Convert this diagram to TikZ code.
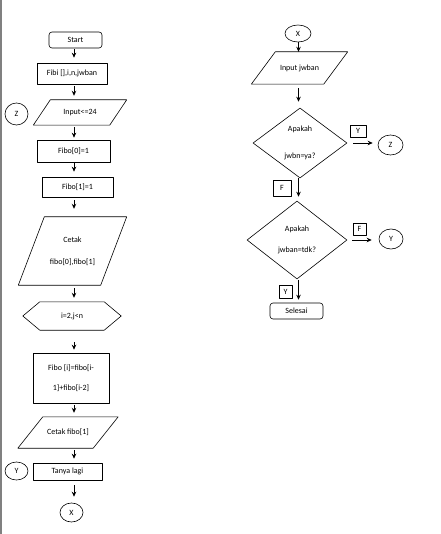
\documentclass[tikz,border=0pt]{standalone}
\usepackage{fontspec}
\setmainfont{Carlito}
\usetikzlibrary{shapes.geometric,arrows.meta}
\begin{document}
\begin{tikzpicture}[x=1pt,y=-1pt,font=\fontsize{8}{9.6}\selectfont,line join=round,>={Stealth[length=5pt,width=4.5pt]},
  shp/.style={draw,line width=0.6pt},
  proc/.style={shp,inner sep=0pt},
  term/.style={proc,rounded corners=3pt},
  io/.style={inner sep=0pt},
  conn/.style={shp,ellipse,inner sep=0pt},
  dec/.style={shp,diamond,inner sep=0pt,aspect=1.3},
  lbl/.style={shp,inner sep=0pt},
  flow/.style={->,line width=0.8pt}]
\useasboundingbox (0,0) rectangle (440,534);
\draw[gray,line width=2pt] (1,0) -- (1,534);
% kolom kiri
\node[term,minimum width=53,minimum height=16] (start) at (75.5,40) {Start};
\node[proc,minimum width=70,minimum height=21] (fibi) at (72,73.5) {Fibi [],i,n,jwban};
\node[io,minimum width=76,minimum height=25] (inp) at (80,112.5) {Input<=24};
\node[proc,minimum width=73,minimum height=22] (fibo0) at (73.5,151) {Fibo[0]=1};
\node[proc,minimum width=71,minimum height=20] (fibo1) at (77.5,187) {Fibo[1]=1};
\node[io,minimum width=82,minimum height=68,align=center] (cet) at (72.5,251) {Cetak\\[12pt]fibo[0],fibo[1]};
\node[io,minimum width=98,minimum height=28] (hex) at (72,316) {i=2,j<n};
\node[proc,minimum width=76,minimum height=50,align=center] (fiboi) at (71,378) {Fibo [i]=fibo[i-\\[11pt]1]+fibo[i-2]};
\node[io,minimum width=75,minimum height=31] (cetf) at (68,432.5) {Cetak fibo[1]};
\node[proc,minimum width=69,minimum height=17] (tanya) at (67.5,471.5) {Tanya lagi};
\node[conn,minimum width=23,minimum height=22] (zl) at (16.5,114) {Z};
\node[conn,minimum width=23,minimum height=18] (yl) at (16.5,471) {Y};
\node[conn,minimum width=23,minimum height=19] (xl) at (71.5,512.5) {X};
% kolom kanan
\node[conn,minimum width=26,minimum height=17] (xr) at (298,33.5) {X};
\node[io,minimum width=72,minimum height=32] (injw) at (299.5,68) {Input jwban};
\node[dec,minimum width=94,minimum height=70,align=center] (d1) at (300,143) {Apakah\\[18pt]jwbn=ya?};
\node[dec,minimum width=100,minimum height=78,align=center] (d2) at (297,240) {Apakah\\[12pt]jwban=tdk?};
\node[term,minimum width=53,minimum height=16] (sel) at (296.5,311) {Selesai};
\node[conn,minimum width=25,minimum height=20] (zr) at (390.5,145) {Z};
\node[conn,minimum width=24,minimum height=20] (yr) at (391,239) {Y};
\node[lbl,minimum width=16,minimum height=12] (ya1) at (358,131) {Y};
\node[lbl,minimum width=18,minimum height=16] (tf1) at (282,188) {F};
\node[lbl,minimum width=13,minimum height=12] (tf2) at (359.5,229) {F};
\node[lbl,minimum width=13,minimum height=13] (ya2) at (285.5,291.5) {Y};
% jajaran genjang dan segi enam
\foreach \n/\o in {inp/17,cet/26,cetf/25,injw/24}
  \draw[shp] ([xshift=\o/2]\n.north west) -- ([xshift=\o/2]\n.north east) -- ([xshift=-\o/2]\n.south east) -- ([xshift=-\o/2]\n.south west) -- cycle;
\draw[shp] (hex.west) -- ([xshift=17]hex.north west) -- ([xshift=-17]hex.north east) -- (hex.east) -- ([xshift=-17]hex.south east) -- ([xshift=17]hex.south west) -- cycle;
% panah
\coordinate (kiri) at (74,0);
\coordinate (kanan) at (298.5,0);
\foreach \a/\b/\s/\e in {start/fibi/1/5,fibi/inp/2/4,inp/fibo0/2/2,fibo0/fibo1/1/5,fibo1/cet/3/8,cet/hex/3/4,hex/fiboi/12/3,fiboi/cetf/2/4,cetf/tanya/2/4,tanya/xl/5/6}
  \draw[flow,shorten <=\s pt,shorten >=\e pt] (kiri |- \a.south) -- (kiri |- \b.north);
\foreach \a/\b/\s/\e in {xr/injw/0/0,injw/d1/4/6,d1/d2/0/4,d2/sel/1/3}
  \draw[flow,shorten <=\s pt,shorten >=\e pt] (kanan |- \a.south) -- (kanan |- \b.north);
\draw[flow,shorten <=6pt,shorten >=5pt] (d1.east) -- (d1.east -| zr.west);
\draw[flow,shorten <=5pt,shorten >=7pt] (d2.east) -- (d2.east -| yr.west);
\end{tikzpicture}
\end{document}
